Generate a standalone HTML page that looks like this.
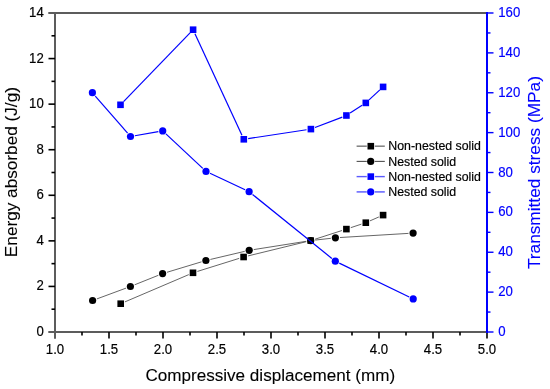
<!DOCTYPE html>
<html><head><meta charset="utf-8"><style>html,body{margin:0;padding:0;background:#fff;}svg{display:block;}</style></head>
<body><svg width="550" height="389" viewBox="0 0 550 389">
<rect width="550" height="389" fill="#fff"/>
<g stroke="#5c5c5c" stroke-width="2" fill="none">
<line x1="55" y1="13" x2="487" y2="13"/>
<line x1="55" y1="13" x2="55" y2="332"/>
<line x1="55" y1="332" x2="487" y2="332"/>
</g>
<g stroke="#000" stroke-width="1.6"><line x1="48.3" y1="332" x2="55" y2="332" stroke="#5c5c5c" stroke-width="2"/><line x1="51.50" y1="309.21" x2="55" y2="309.21"/><line x1="48.50" y1="286.43" x2="55" y2="286.43"/><line x1="51.50" y1="263.64" x2="55" y2="263.64"/><line x1="48.50" y1="240.86" x2="55" y2="240.86"/><line x1="51.50" y1="218.07" x2="55" y2="218.07"/><line x1="48.50" y1="195.29" x2="55" y2="195.29"/><line x1="51.50" y1="172.50" x2="55" y2="172.50"/><line x1="48.50" y1="149.71" x2="55" y2="149.71"/><line x1="51.50" y1="126.93" x2="55" y2="126.93"/><line x1="48.50" y1="104.14" x2="55" y2="104.14"/><line x1="51.50" y1="81.36" x2="55" y2="81.36"/><line x1="48.50" y1="58.57" x2="55" y2="58.57"/><line x1="51.50" y1="35.79" x2="55" y2="35.79"/><line x1="48.3" y1="13" x2="55" y2="13" stroke="#5c5c5c" stroke-width="2"/><line x1="55" y1="332" x2="55" y2="338.7" stroke="#5c5c5c" stroke-width="2"/><line x1="82.00" y1="332" x2="82.00" y2="335.50"/><line x1="109.00" y1="332" x2="109.00" y2="338.50"/><line x1="136.00" y1="332" x2="136.00" y2="335.50"/><line x1="163.00" y1="332" x2="163.00" y2="338.50"/><line x1="190.00" y1="332" x2="190.00" y2="335.50"/><line x1="217.00" y1="332" x2="217.00" y2="338.50"/><line x1="244.00" y1="332" x2="244.00" y2="335.50"/><line x1="271.00" y1="332" x2="271.00" y2="338.50"/><line x1="298.00" y1="332" x2="298.00" y2="335.50"/><line x1="325.00" y1="332" x2="325.00" y2="338.50"/><line x1="352.00" y1="332" x2="352.00" y2="335.50"/><line x1="379.00" y1="332" x2="379.00" y2="338.50"/><line x1="406.00" y1="332" x2="406.00" y2="335.50"/><line x1="433.00" y1="332" x2="433.00" y2="338.50"/><line x1="460.00" y1="332" x2="460.00" y2="335.50"/><line x1="487.00" y1="332" x2="487.00" y2="338.50"/></g>
<g stroke="#00f" stroke-width="1.4"><line x1="487" y1="332.00" x2="493.50" y2="332.00"/><line x1="487" y1="312.06" x2="490.50" y2="312.06"/><line x1="487" y1="292.12" x2="493.50" y2="292.12"/><line x1="487" y1="272.19" x2="490.50" y2="272.19"/><line x1="487" y1="252.25" x2="493.50" y2="252.25"/><line x1="487" y1="232.31" x2="490.50" y2="232.31"/><line x1="487" y1="212.38" x2="493.50" y2="212.38"/><line x1="487" y1="192.44" x2="490.50" y2="192.44"/><line x1="487" y1="172.50" x2="493.50" y2="172.50"/><line x1="487" y1="152.56" x2="490.50" y2="152.56"/><line x1="487" y1="132.62" x2="493.50" y2="132.62"/><line x1="487" y1="112.69" x2="490.50" y2="112.69"/><line x1="487" y1="92.75" x2="493.50" y2="92.75"/><line x1="487" y1="72.81" x2="490.50" y2="72.81"/><line x1="487" y1="52.88" x2="493.50" y2="52.88"/><line x1="487" y1="32.94" x2="490.50" y2="32.94"/><line x1="487" y1="13.00" x2="493.50" y2="13.00"/></g>
<line x1="487" y1="12" x2="487" y2="333" stroke="#00f" stroke-width="2"/>
<g font-family="Liberation Sans, Arial, sans-serif" font-size="14.2" fill="#000" stroke="#000" stroke-width="0.18"><text transform="translate(43.8,336.00) scale(0.93,1)" text-anchor="end">0</text><text transform="translate(43.8,290.43) scale(0.93,1)" text-anchor="end">2</text><text transform="translate(43.8,244.86) scale(0.93,1)" text-anchor="end">4</text><text transform="translate(43.8,199.29) scale(0.93,1)" text-anchor="end">6</text><text transform="translate(43.8,153.71) scale(0.93,1)" text-anchor="end">8</text><text transform="translate(43.8,108.14) scale(0.93,1)" text-anchor="end">10</text><text transform="translate(43.8,62.57) scale(0.93,1)" text-anchor="end">12</text><text transform="translate(43.8,17.00) scale(0.93,1)" text-anchor="end">14</text><text transform="translate(55.00,353.7) scale(0.93,1)" text-anchor="middle">1.0</text><text transform="translate(109.00,353.7) scale(0.93,1)" text-anchor="middle">1.5</text><text transform="translate(163.00,353.7) scale(0.93,1)" text-anchor="middle">2.0</text><text transform="translate(217.00,353.7) scale(0.93,1)" text-anchor="middle">2.5</text><text transform="translate(271.00,353.7) scale(0.93,1)" text-anchor="middle">3.0</text><text transform="translate(325.00,353.7) scale(0.93,1)" text-anchor="middle">3.5</text><text transform="translate(379.00,353.7) scale(0.93,1)" text-anchor="middle">4.0</text><text transform="translate(433.00,353.7) scale(0.93,1)" text-anchor="middle">4.5</text><text transform="translate(487.00,353.7) scale(0.93,1)" text-anchor="middle">5.0</text></g>
<g font-family="Liberation Sans, Arial, sans-serif" font-size="14.2" fill="#00f" stroke="#00f" stroke-width="0.18"><text transform="translate(498.2,336.00) scale(0.93,1)">0</text><text transform="translate(498.2,296.12) scale(0.93,1)">20</text><text transform="translate(498.2,256.25) scale(0.93,1)">40</text><text transform="translate(498.2,216.38) scale(0.93,1)">60</text><text transform="translate(498.2,176.50) scale(0.93,1)">80</text><text transform="translate(498.2,136.62) scale(0.93,1)">100</text><text transform="translate(498.2,96.75) scale(0.93,1)">120</text><text transform="translate(498.2,56.88) scale(0.93,1)">140</text><text transform="translate(498.2,17.00) scale(0.93,1)">160</text></g>
<g stroke="#555" stroke-width="0.9"><line x1="124.93" y1="301.89" x2="188.77" y2="274.61"/><line x1="197.39" y1="271.43" x2="239.21" y2="258.37"/><line x1="248.07" y1="255.91" x2="306.23" y2="241.69"/><line x1="315.08" y1="239.19" x2="342.02" y2="230.51"/><line x1="350.77" y1="227.66" x2="361.43" y2="224.14"/><line x1="370.01" y1="220.85" x2="378.89" y2="216.95"/><line x1="96.91" y1="298.90" x2="126.09" y2="288.10"/><line x1="134.67" y1="284.79" x2="158.33" y2="275.31"/><line x1="167.00" y1="272.27" x2="201.50" y2="261.83"/><line x1="210.38" y1="259.45" x2="244.72" y2="251.35"/><line x1="253.74" y1="249.58" x2="306.16" y2="241.32"/><line x1="315.27" y1="240.08" x2="330.83" y2="238.32"/><line x1="339.99" y1="237.52" x2="408.51" y2="233.38"/></g>
<g fill="#000"><rect x="117.40" y="300.40" width="6.6" height="6.6"/><rect x="189.70" y="269.50" width="6.6" height="6.6"/><rect x="240.30" y="253.70" width="6.6" height="6.6"/><rect x="307.40" y="237.30" width="6.6" height="6.6"/><rect x="343.10" y="225.80" width="6.6" height="6.6"/><rect x="362.50" y="219.40" width="6.6" height="6.6"/><rect x="379.80" y="211.80" width="6.6" height="6.6"/><circle cx="92.60" cy="300.50" r="3.6"/><circle cx="130.40" cy="286.50" r="3.6"/><circle cx="162.60" cy="273.60" r="3.6"/><circle cx="205.90" cy="260.50" r="3.6"/><circle cx="249.20" cy="250.30" r="3.6"/><circle cx="310.70" cy="240.60" r="3.6"/><circle cx="335.40" cy="237.80" r="3.6"/><circle cx="413.10" cy="233.10" r="3.6"/></g>
<g stroke="#00f" stroke-width="1.2"><line x1="123.56" y1="101.64" x2="190.04" y2="32.86"/><line x1="194.95" y1="33.69" x2="241.95" y2="135.31"/><line x1="248.15" y1="138.64" x2="306.55" y2="129.76"/><line x1="315.01" y1="127.53" x2="342.29" y2="117.07"/><line x1="350.09" y1="113.10" x2="362.11" y2="105.30"/><line x1="369.03" y1="99.91" x2="379.87" y2="89.89"/><line x1="95.29" y1="96.02" x2="127.61" y2="133.18"/><line x1="134.83" y1="135.75" x2="158.37" y2="131.65"/><line x1="165.91" y1="133.91" x2="202.79" y2="168.39"/><line x1="209.98" y1="173.27" x2="245.12" y2="189.83"/><line x1="252.53" y1="194.46" x2="331.87" y2="258.44"/><line x1="339.26" y1="263.12" x2="409.24" y2="296.98"/></g>
<g fill="#00f"><rect x="117.20" y="101.50" width="6.6" height="6.6"/><rect x="189.80" y="26.40" width="6.6" height="6.6"/><rect x="240.50" y="136.00" width="6.6" height="6.6"/><rect x="307.60" y="125.80" width="6.6" height="6.6"/><rect x="343.10" y="112.20" width="6.6" height="6.6"/><rect x="362.50" y="99.60" width="6.6" height="6.6"/><rect x="379.80" y="83.60" width="6.6" height="6.6"/><circle cx="92.40" cy="92.70" r="3.6"/><circle cx="130.50" cy="136.50" r="3.6"/><circle cx="162.70" cy="130.90" r="3.6"/><circle cx="206.00" cy="171.40" r="3.6"/><circle cx="249.10" cy="191.70" r="3.6"/><circle cx="335.30" cy="261.20" r="3.6"/><circle cx="413.20" cy="298.90" r="3.6"/></g>
<g font-family="Liberation Sans, Arial, sans-serif" font-size="12.35"><line x1="356.6" y1="146.2" x2="366.8" y2="146.2" stroke="#808080" stroke-width="1.5"/><line x1="374.8" y1="146.2" x2="384.8" y2="146.2" stroke="#808080" stroke-width="1.5"/><rect x="367.50" y="142.90" width="6.6" height="6.6" fill="#000"/><text x="388.3" y="150.40" fill="#000" stroke="#000" stroke-width="0.18">Non-nested solid</text><line x1="356.6" y1="161.4" x2="366.8" y2="161.4" stroke="#505050" stroke-width="1.1"/><line x1="374.8" y1="161.4" x2="384.8" y2="161.4" stroke="#505050" stroke-width="1.1"/><circle cx="370.7" cy="161.4" r="3.6" fill="#000"/><text x="388.3" y="165.60" fill="#000" stroke="#000" stroke-width="0.18">Nested solid</text><line x1="356.6" y1="176.6" x2="366.8" y2="176.6" stroke="#5a5aff" stroke-width="1.4"/><line x1="374.8" y1="176.6" x2="384.8" y2="176.6" stroke="#5a5aff" stroke-width="1.4"/><rect x="367.50" y="173.30" width="6.6" height="6.6" fill="#00f"/><text x="388.3" y="180.80" fill="#000" stroke="#000" stroke-width="0.18">Non-nested solid</text><line x1="356.6" y1="191.9" x2="366.8" y2="191.9" stroke="#6a6aff" stroke-width="1.6"/><line x1="374.8" y1="191.9" x2="384.8" y2="191.9" stroke="#6a6aff" stroke-width="1.6"/><circle cx="370.7" cy="191.9" r="3.6" fill="#00f"/><text x="388.3" y="196.10" fill="#000" stroke="#000" stroke-width="0.18">Nested solid</text></g>
<g font-family="Liberation Sans, Arial, sans-serif" font-size="17">
<text x="270.3" y="381.3" text-anchor="middle" fill="#000" font-size="17.1" stroke="#000" stroke-width="0.1">Compressive displacement (mm)</text>
<text transform="translate(17.4,172.1) rotate(-90)" text-anchor="middle" fill="#000" font-size="17.2" stroke="#000" stroke-width="0.1">Energy absorbed (J/g)</text>
<text transform="translate(540.3,172.6) rotate(-90)" text-anchor="middle" fill="#00f" font-size="17.25" stroke="#00f" stroke-width="0.1">Transmitted stress (MPa)</text>
</g>
</svg></body></html>
